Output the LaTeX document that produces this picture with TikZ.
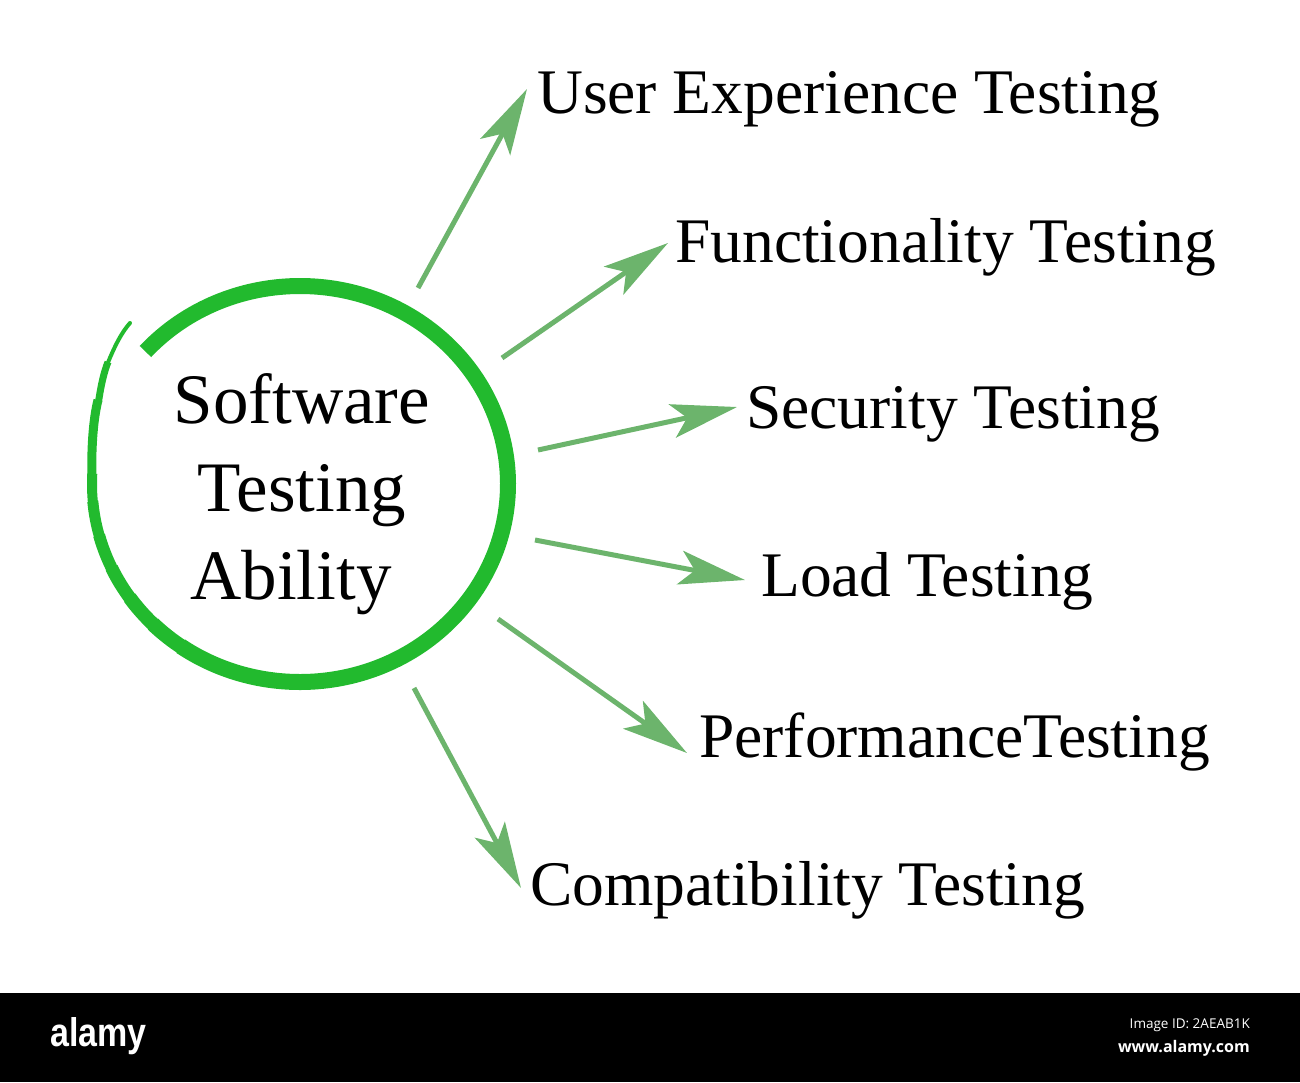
\documentclass[tikz,border=0pt]{standalone}
\usepackage{fontspec}
\setmainfont{Liberation Serif}
\newfontfamily\stockfont[FakeStretch=0.85]{Liberation Sans}
\newfontfamily\stockinfo{Open Sans}
\usepackage{tikz}
\usetikzlibrary{
  arrows.meta,
  calc,
  positioning,
}
\definecolor{ringgreen}{RGB}{34, 186, 46}
\definecolor{arrowgreen}{RGB}{108, 180, 108}
\tikzstyle{arrow} = [
  -{Stealth[length=66pt, width=34pt, inset=15pt]},
  line width=5pt,
  arrowgreen,
]

\begin{document}
\begin{tikzpicture}[x=1pt, y=-1pt,
                    testing/.style={anchor=base west, inner sep=0pt,
                                    font=\fontsize{63.5}{76}\selectfont}]
    \useasboundingbox (0,0) rectangle (1300,1082);
    % hand drawn ring, thinning towards its end
    \draw [ringgreen, line width=16pt] (300,484) ++(222:208 and 198)
          arc [start angle=222, end angle=485, x radius=208, y radius=198];
    \foreach \a/\w in {484/15, 494/14, 504/13, 514/12, 524/11, 532/10} {
      \draw [ringgreen, line width=\w pt] (300,484) ++(\a:208 and 198)
            arc [start angle=\a, end angle=\a+11, x radius=208, y radius=198];
    }
    \draw [ringgreen, line width=9pt] (92,484)
          .. controls (91,450) and (93,420) .. (98,400);
    \draw [ringgreen, line width=7pt] (98.5,402)
          .. controls (101,385) and (104,372) .. (108,362);
    \draw [ringgreen, line width=4pt, line cap=round] (107,365)
          .. controls (115,345) and (122,332) .. (130,323);
    \node [anchor=north, inner sep=0pt, align=center,
           font=\fontsize{71}{88}\selectfont] (sta) at (302,373)
          {Software\\Testing\\Ability\hspace*{22pt}};
    % testing kinds
    \node [testing] (ux) at (537,113) {User Experience Testing};
    \node [testing] (func) at (675,262) {Functionality Testing};
    \node [testing] (sec) at (746,428) {Security Testing};
    \node [testing] (load) at (761,596) {Load Testing};
    \node [testing] (perf) at (699,757) {PerformanceTesting};
    \node [testing] (compat) at (530,905) {Compatibility Testing};
    \coordinate (s1) at (418,288);
    \coordinate (s2) at (502,358);
    \coordinate (s3) at (538,450);
    \coordinate (s4) at (535,540);
    \coordinate (s5) at (498,619);
    \coordinate (s6) at (414,688);
    \draw [arrow] (s1) -- ($(ux.base west)+(-10,-24)$);
    \draw [arrow] (s2) -- ($(func.base west)+(-7,-19)$);
    \draw [arrow] (s3) -- ($(sec.base west)+(-9,-21)$);
    \draw [arrow] (s4) -- ($(load.base west)+(-16,-16)$);
    \draw [arrow] (s5) -- ($(perf.base west)+(-12,-4)$);
    \draw [arrow] (s6) -- ($(compat.base west)+(-9,-17)$);
    % stock band
    \fill [black] (0,993) rectangle (1300,1082);
    \node [white, anchor=base west, inner sep=0pt,
           font=\stockfont\bfseries\fontsize{40}{40}\selectfont]
          (alamy) at (50,1046) {alamy};
    \node [white, anchor=base east, inner sep=0pt,
           font=\stockinfo\fontsize{13.5}{13.5}\selectfont]
          (imgid) at (1250,1028) {Image ID: 2AEAB1K};
    \node [white, anchor=base east, inner sep=0pt,
           font=\stockinfo\bfseries\fontsize{16}{16}\selectfont]
          (site) at (1250,1052) {www.alamy.com};
  \end{tikzpicture}
\end{document}
